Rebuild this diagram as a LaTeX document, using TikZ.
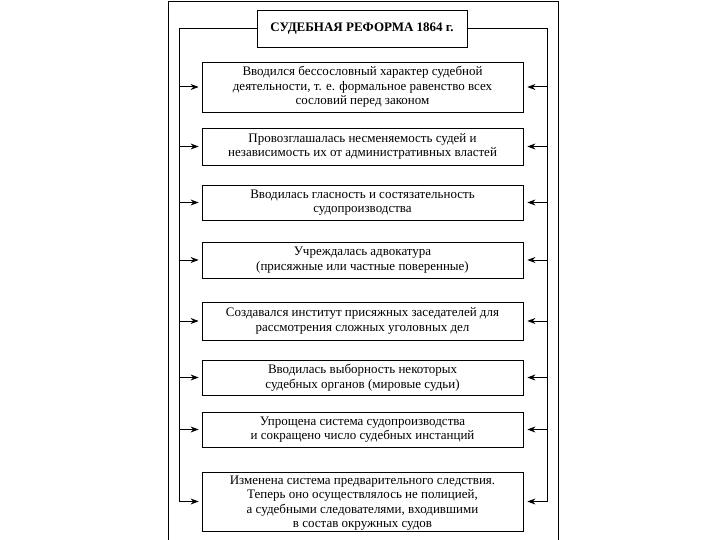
\documentclass[tikz,border=0pt]{standalone}
\usepackage{fontspec}
\setmainfont{Liberation Serif}
\usetikzlibrary{arrows.meta}

\begin{document}
\begin{tikzpicture}[x=1pt,y=-1pt]
    \newcommand{\boxwidth}[0]{321pt}
    \newcommand{\boxx}[0]{362.5}

    \tikzstyle{dedge} = [line width=1pt,->,>={Stealth[length=8pt,width=6pt]},draw=black]
    \tikzstyle{wire} = [line width=1pt,draw=black]

    \tikzstyle{reform}=[
      rectangle,
      draw=black,
      line width=0.8pt,
      align=center,
      inner sep=2pt,
      minimum width=\boxwidth,
      font=\fontsize{13}{14.5}\selectfont,
    ]
    \tikzstyle{heading}=[
      reform,
      minimum width=210pt,
      minimum height=37pt,
      font=\fontsize{13}{14.5}\selectfont\bfseries,
    ]

    \useasboundingbox (0,0) rectangle (720,540);
    \fill[white] (0,0) rectangle (720,540);
    \draw[line width=0.8pt] (168,545) |- (558,1) -- (558,545);

    \node[heading] (reformtitle) at (362,28.5) {СУДЕБНАЯ РЕФОРМА 1864 г.};
    \draw[line width=1.4pt] (reformtitle.south west) -| (reformtitle.north east);

    \node[reform,minimum height=50pt] (classless) at (\boxx, 87) {Вводился бессословный характер судебной\\деятельности, т. е. формальное равенство всех\\сословий перед законом};
    \node[reform,minimum height=37pt] (tenure) at (\boxx, 146.5) {Провозглашалась несменяемость судей и\\независимость их от административных властей};
    \node[reform,minimum height=35pt] (publicity) at (\boxx, 202.5) {Вводилась гласность и состязательность\\судопроизводства};
    \node[reform,minimum height=36pt] (advocacy) at (\boxx, 260) {Учреждалась адвокатура\\(присяжные или частные поверенные)};
    \node[reform,minimum height=38pt] (jury) at (\boxx, 321) {Создавался институт присяжных заседателей для\\рассмотрения сложных уголовных дел};
    \node[reform,minimum height=35pt] (elective) at (\boxx, 377.5) {Вводилась выборность некоторых\\судебных органов (мировые судьи)};
    \node[reform,minimum height=35pt] (simplified) at (\boxx, 429.5) {Упрощена система судопроизводства\\и сокращено число судебных инстанций};
    \node[reform,minimum height=59pt,text depth=-3pt] (inquiry) at (\boxx, 501.5) {Изменена система предварительного следствия.\\Теперь оно осуществлялось не полицией,\\а судебными следователями, входившими\\в состав окружных судов};

    \coordinate (leftend) at (179,501.5);
    \coordinate (rightend) at (547,501.5);

    \draw[wire] (reformtitle.west) -| (leftend);
    \draw[wire] (reformtitle.east) -| (rightend);

    \foreach \part in {classless,tenure,publicity,advocacy,jury,elective,simplified,inquiry} {
      \draw[dedge,shorten >=3pt] (leftend |- \part.west) -- (\part.west);
      \draw[dedge,shorten >=4pt] (rightend |- \part.east) -- (\part.east);
    }
  \end{tikzpicture}
\end{document}
